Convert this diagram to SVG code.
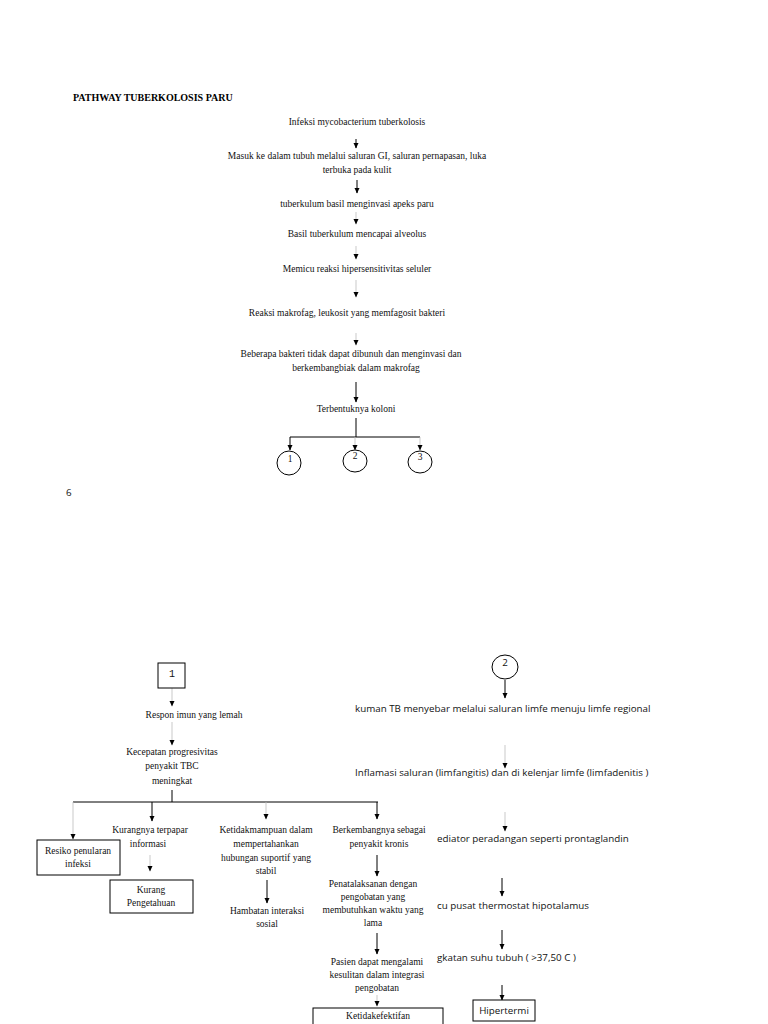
<svg xmlns="http://www.w3.org/2000/svg" width="768" height="1024" viewBox="0 0 768 1024">
<defs>
<marker id="ah" markerUnits="userSpaceOnUse" markerWidth="6" markerHeight="6" refX="5" refY="3" orient="auto" viewBox="0 0 6 6">
<path d="M0,0.5 L0,5.5 L5.5,3 Z" fill="#000"/>
</marker>
</defs>
<style>
.s{font-family:"Liberation Serif","Times New Roman",serif;font-size:9.5px;fill:#111;text-anchor:middle}
.t{font-family:"Liberation Serif","Times New Roman",serif;font-size:10px;font-weight:bold;fill:#000}
.n{font-family:"Open Sans","Liberation Sans",sans-serif;font-size:9.8px;fill:#111}
.m{font-family:"Liberation Mono","Courier New",monospace;font-size:10px;fill:#111;text-anchor:middle}
.b{fill:#fff;stroke:#000;stroke-width:1}
.c{stroke:#000;stroke-width:1;fill:none}
.a{stroke:#000;stroke-width:1;fill:none;marker-end:url(#ah)}
.g{stroke:#bbb;stroke-width:0.8;fill:none;marker-end:url(#ah)}
</style>
<rect width="768" height="1024" fill="#fff"/>
<text class="t" x="73" y="101">PATHWAY TUBERKOLOSIS PARU</text>

<g id="connectors">
<path class="a" d="M356,139 V148"/>
<path class="a" d="M357,180 V193"/>
<path class="g" d="M356,212 V224"/>
<path class="g" d="M356,246 V259"/>
<path class="g" d="M356,280 V297"/>
<path class="g" d="M356,333 V345"/>
<path class="a" d="M356,382 V402"/>
<path class="c" d="M356,418 V437 M290,437 H420"/>
<path class="a" d="M290,437 V450"/>
<path class="g" d="M355,437 V450"/>
<path class="g" d="M420,437 V450"/>

<path class="g" d="M172,688 V706"/>
<path class="g" d="M172,722 V745"/>
<path class="c" d="M172,790 V802 M73,802 H378"/>
<path class="g" d="M73,802 V839"/>
<path class="a" d="M152,802 V821"/>
<path class="g" d="M150,855 V871"/>
<path class="g" d="M266,802 V819"/>
<path class="a" d="M267,880 V903"/>
<path class="a" d="M377,802 V819"/>
<path class="a" d="M377,855 V876"/>
<path class="a" d="M377,933 V954"/>
<path class="g" d="M377,995 V1006"/>

<path class="a" d="M505,680 V698"/>
<path class="g" d="M505,745 V768"/>
<path class="g" d="M505,812 V831"/>
<path class="a" d="M502,878 V896"/>
<path class="a" d="M502,930 V949"/>
<path class="a" d="M502,985 V1000"/>
</g>

<g id="n_infeksi"><text class="s" x="357" y="125">Infeksi mycobacterium tuberkolosis</text></g>
<g id="n_masuk"><text class="s" x="357" y="159">Masuk ke dalam tubuh melalui saluran GI, saluran pernapasan, luka</text><text class="s" x="357" y="173">terbuka pada kulit</text></g>
<g id="n_tuberkulum"><text class="s" x="357" y="207">tuberkulum basil menginvasi apeks paru</text></g>
<g id="n_basil"><text class="s" x="357" y="237">Basil  tuberkulum  mencapai alveolus</text></g>
<g id="n_memicu"><text class="s" x="357" y="272">Memicu reaksi hipersensitivitas seluler</text></g>
<g id="n_reaksi"><text class="s" x="347" y="316">Reaksi makrofag, leukosit yang memfagosit bakteri</text></g>
<g id="n_beberapa"><text class="s" x="351" y="357">Beberapa bakteri tidak dapat dibunuh dan menginvasi dan</text><text class="s" x="356" y="371">berkembangbiak dalam makrofag</text></g>
<g id="n_koloni"><text class="s" x="356" y="412">Terbentuknya koloni</text></g>
<g id="n_c1"><ellipse class="b" cx="289" cy="463" rx="12" ry="12"/><text class="s" x="290" y="462">1</text></g>
<g id="n_c2"><ellipse class="b" cx="355" cy="461" rx="12" ry="11"/><text class="s" x="355" y="459">2</text></g>
<g id="n_c3"><ellipse class="b" cx="420" cy="462" rx="12" ry="11"/><text class="s" x="420" y="460">3</text></g>
<g id="n_6"><text class="n" x="66" y="496">6</text></g>

<g id="n_b1"><rect class="b" x="158" y="663" width="27" height="25"/><text class="m" x="172" y="677">1</text></g>
<g id="n_respon"><text class="s" x="194" y="718">Respon imun yang lemah</text></g>
<g id="n_kecepatan"><text class="s" x="172" y="755">Kecepatan progresivitas</text><text class="s" x="172" y="769">penyakit  TBC</text><text class="s" x="172" y="784">meningkat</text></g>
<g id="n_resiko"><rect class="b" x="37" y="840" width="83" height="35"/><text class="s" x="78" y="854">Resiko penularan</text><text class="s" x="78" y="867">infeksi</text></g>
<g id="n_kurangnya"><text class="s" x="150" y="833">Kurangnya terpapar</text><text class="s" x="148" y="847">informasi</text></g>
<g id="n_kurang"><rect class="b" x="110" y="880" width="83" height="33"/><text class="s" x="151" y="893">Kurang</text><text class="s" x="151" y="906">Pengetahuan</text></g>
<g id="n_ketidakmampuan"><text class="s" x="266" y="833">Ketidakmampuan dalam</text><text class="s" x="266" y="847">mempertahankan</text><text class="s" x="266" y="861">hubungan suportif yang</text><text class="s" x="266" y="874">stabil</text></g>
<g id="n_hambatan"><text class="s" x="267" y="914">Hambatan interaksi</text><text class="s" x="267" y="927">sosial</text></g>
<g id="n_berkembang"><text class="s" x="379" y="833">Berkembangnya sebagai</text><text class="s" x="379" y="847">penyakit kronis</text></g>
<g id="n_penatalaksanan"><text class="s" x="373" y="887">Penatalaksanan dengan</text><text class="s" x="373" y="900">pengobatan yang</text><text class="s" x="373" y="913">membutuhkan waktu yang</text><text class="s" x="373" y="926">lama</text></g>
<g id="n_pasien"><text class="s" x="377" y="965">Pasien dapat mengalami</text><text class="s" x="377" y="978">kesulitan dalam integrasi</text><text class="s" x="377" y="991">pengobatan</text></g>
<g id="n_ketidakefektifan"><rect class="b" x="313" y="1008" width="130" height="24"/><text class="s" x="378" y="1019">Ketidakefektifan</text></g>

<g id="n_c2b"><ellipse class="b" cx="505" cy="667" rx="13" ry="12"/><text class="n" x="505" y="666" text-anchor="middle">2</text></g>
<g id="n_kuman"><text class="n" x="355" y="712">kuman TB menyebar melalui saluran limfe menuju limfe regional</text></g>
<g id="n_inflamasi"><text class="n" x="355" y="776">Inflamasi saluran (limfangitis) dan di kelenjar limfe (limfadenitis )</text></g>
<g id="n_mediator"><text class="n" x="437" y="842">ediator peradangan seperti prontaglandin</text></g>
<g id="n_memacu"><text class="n" x="437" y="909">cu pusat thermostat  hipotalamus</text></g>
<g id="n_peningkatan"><text class="n" x="437" y="961">gkatan suhu tubuh ( &gt;37,50 C )</text></g>
<g id="n_hipertermi"><rect class="b" x="473" y="1000" width="62" height="21"/><text class="n" x="504" y="1014" text-anchor="middle">Hipertermi</text></g>
</svg>
